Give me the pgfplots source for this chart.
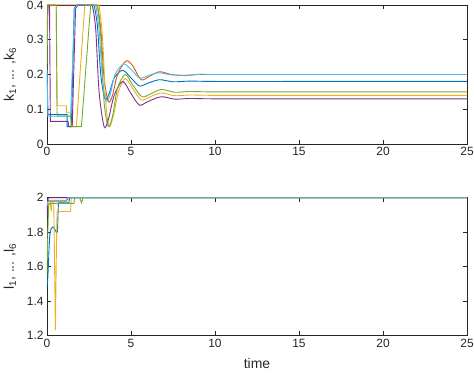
\documentclass[border=0pt]{standalone}
\usepackage{fontspec}
\setmainfont{Liberation Sans}
\usepackage{pgfplots}
\pgfplotsset{compat=1.18}
\definecolor{c1}{rgb}{0,0.447,0.741}
\definecolor{c2}{rgb}{0.85,0.325,0.098}
\definecolor{c3}{rgb}{0.929,0.694,0.125}
\definecolor{c4}{rgb}{0.494,0.184,0.556}
\definecolor{c5}{rgb}{0.466,0.674,0.188}
\definecolor{c6}{rgb}{0.301,0.745,0.933}
\definecolor{axgray}{rgb}{0.15,0.15,0.15}
\pgfplotsset{
  mystyle/.style={
    scale only axis, width=420bp,
    xmin=0, xmax=25, xtick={0,5,10,15,20,25},
    tick align=inside, major tick length=4bp,
    axis line style={color=axgray, line width=0.6bp},
    tick style={color=axgray, line width=0.5bp},
    ticklabel style={font=\fontsize{12}{14}\selectfont, color=axgray},
    label style={font=\fontsize{14}{16}\selectfont, color=axgray},
    /pgf/number format/assume math mode=true,
    /pgf/number format/fixed,
    every axis plot/.append style={line width=0.9bp, mark=none},
    ylabel style={at={(axis description cs:-0.088,0.5)}, anchor=center},
  }
}
\begin{document}
\begin{tikzpicture}
\path[use as bounding box] (-47bp,-37.7bp) rectangle (427bp,335.3bp);
\begin{axis}[mystyle, at={(0,191.3bp)}, anchor=south west, height=139bp,
  ymin=0, ymax=0.4, ytick={0,0.1,0.2,0.3,0.4},
  ylabel={k\textsubscript{1}, ... ,k\textsubscript{6}}]
% k1 blue
\addplot[c1] coordinates {(0,0.21)(0.06,0.085)(1.2,0.085)(1.2,0.05)(1.45,0.05)(1.62,0.39)(1.75,0.4)(2.8,0.4)};
\addplot[c1, smooth] coordinates {(2.8,0.4)(3.0,0.34)(3.2,0.2)(3.45,0.13)(3.7,0.145)(4.0,0.19)(4.5,0.212)(5.0,0.19)(5.5,0.167)(6.0,0.175)(6.7,0.185)(7.5,0.179)(8.5,0.181)(10,0.18)(15,0.18)(25,0.18)};
% k2 red
\addplot[c2] coordinates {(0,0.35)(0.08,0.4)(3.0,0.4)};
\addplot[c2, smooth] coordinates {(3.0,0.4)(3.2,0.33)(3.4,0.19)(3.65,0.122)(3.9,0.14)(4.2,0.2)(4.7,0.239)(5.1,0.225)(5.6,0.185)(6.1,0.195)(6.7,0.208)(7.4,0.2)(8.2,0.197)(9,0.2)(10,0.2)(15,0.2)(25,0.2)};
% k3 yellow
\addplot[c3] coordinates {(0,0.4)(0.55,0.4)(0.6,0.11)(1.15,0.11)(1.15,0.09)(1.5,0.09)(1.55,0.05)(1.75,0.05)(2.25,0.4)(3.1,0.4)};
\addplot[c3, smooth] coordinates {(3.1,0.4)(3.3,0.31)(3.5,0.12)(3.7,0.052)(3.95,0.08)(4.25,0.15)(4.65,0.188)(5.1,0.16)(5.6,0.127)(6.1,0.135)(6.8,0.147)(7.6,0.139)(8.5,0.141)(10,0.14)(15,0.14)(25,0.14)};
% k4 purple
\addplot[c4] coordinates {(0,0.3)(0.05,0.4)(0.15,0.4)(0.2,0.065)(1.25,0.065)(1.3,0.05)(1.5,0.05)(1.7,0.39)(1.85,0.4)(2.7,0.4)};
\addplot[c4, smooth] coordinates {(2.7,0.4)(2.9,0.33)(3.1,0.15)(3.4,0.05)(3.65,0.07)(4.0,0.14)(4.5,0.18)(5.0,0.145)(5.5,0.112)(6.0,0.122)(6.8,0.136)(7.6,0.129)(8.5,0.131)(10,0.13)(15,0.13)(25,0.13)};
% k5 green
\addplot[c5] coordinates {(0,0.22)(0.05,0.4)(0.55,0.4)(0.6,0.08)(1.4,0.08)(1.45,0.05)(2.05,0.05)(2.6,0.4)(3.0,0.4)};
\addplot[c5, smooth] coordinates {(3.0,0.4)(3.2,0.31)(3.4,0.12)(3.65,0.05)(3.9,0.08)(4.2,0.16)(4.65,0.2)(5.1,0.17)(5.65,0.136)(6.2,0.145)(6.8,0.157)(7.6,0.149)(8.5,0.151)(10,0.15)(15,0.15)(25,0.15)};
% k6 cyan
\addplot[c6] coordinates {(0,0.22)(0.05,0.08)(1.4,0.08)(1.65,0.39)(1.8,0.4)(2.9,0.4)};
\addplot[c6, smooth] coordinates {(2.9,0.4)(3.1,0.33)(3.3,0.19)(3.5,0.125)(3.75,0.14)(4.05,0.2)(4.55,0.23)(5.0,0.215)(5.5,0.19)(6.0,0.196)(6.6,0.205)(7.4,0.199)(8.3,0.198)(9.2,0.201)(10,0.2)(15,0.2)(25,0.2)};
\end{axis}
\begin{axis}[mystyle, at={(0,0)}, anchor=south west, height=137.6bp,
  ymin=1.2, ymax=2, ytick={1.2,1.4,1.6,1.8,2},
  ylabel={l\textsubscript{1}, ... ,l\textsubscript{6}},
  xlabel={time},
  xlabel style={at={(axis description cs:0.5,0)}, anchor=center, yshift=-28.5bp}]
\addplot[c1] coordinates {(0,1.48)(0.04,1.52)(0.08,1.6)(0.12,1.7)(0.17,1.79)(0.25,1.82)(0.35,1.83)(0.45,1.82)(0.55,1.8)(0.62,1.8)(0.68,1.97)(1.3,1.97)(1.35,2)(25,2)};
\addplot[c2] coordinates {(0,1.94)(0.08,1.985)(1.2,1.985)(1.25,2)(25,2)};
\addplot[c3] coordinates {(0,1.95)(0.2,1.97)(0.25,1.92)(0.3,1.98)(0.4,1.98)(0.44,1.7)(0.5,1.23)(0.56,1.7)(0.6,1.92)(1.4,1.92)(1.45,2)(25,2)};
\addplot[c4] coordinates {(0,1.9)(0.05,1.99)(0.1,2)(25,2)};
\addplot[c5] coordinates {(0,1.55)(0.05,1.8)(0.1,1.96)(0.15,1.967)(1.6,1.967)(1.65,2)(1.95,2)(2.05,1.97)(2.15,2)(25,2)};
\addplot[c6] coordinates {(0,1.95)(0.05,1.978)(1.15,1.978)(1.2,2)(25,2)};
\end{axis}
\end{tikzpicture}
\end{document}
